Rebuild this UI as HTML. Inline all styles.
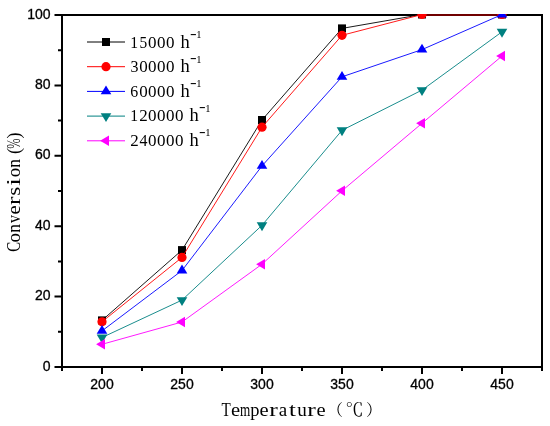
<!DOCTYPE html>
<html><head><meta charset="utf-8"><title>Conversion vs Temperature</title><style>
html,body{margin:0;padding:0;background:#fff;width:550px;height:426px;overflow:hidden}
svg{display:block}
.s{font-family:"Liberation Sans",Arial,sans-serif;font-size:14px;fill:#000;stroke:#000;stroke-width:0.3px}
.r{font-family:"Liberation Serif","Noto Serif CJK SC",serif;fill:#000}
</style></head><body>
<svg width="550" height="426" viewBox="0 0 550 426">
<rect width="550" height="426" fill="#fff"/>
<defs><clipPath id="pc"><rect x="61" y="14" width="482" height="354"/></clipPath></defs>
<rect x="62" y="15" width="480" height="352" fill="none" stroke="#000" stroke-width="2"/>
<g clip-path="url(#pc)">
<polyline points="102,320.4 182,250.1 262,120.0 342,28.4 422,14.5 502,14.5" fill="none" stroke="#000000" stroke-width="0.9"/>
<rect x="98.00" y="316.40" width="8.0" height="8.0" fill="#000000"/>
<rect x="178.00" y="246.10" width="8.0" height="8.0" fill="#000000"/>
<rect x="258.00" y="116.00" width="8.0" height="8.0" fill="#000000"/>
<rect x="338.00" y="24.40" width="8.0" height="8.0" fill="#000000"/>
<rect x="418.00" y="10.50" width="8.0" height="8.0" fill="#000000"/>
<rect x="498.00" y="10.50" width="8.0" height="8.0" fill="#000000"/>
<polyline points="102,321.8 182,257.4 262,127.2 342,35.3 422,14.5 502,14.5" fill="none" stroke="#ff0000" stroke-width="0.9"/>
<line x1="422" y1="15" x2="502" y2="15" stroke="#700000" stroke-width="2"/>
<circle cx="102.00" cy="321.80" r="4.6" fill="#ff0000"/>
<circle cx="182.00" cy="257.40" r="4.6" fill="#ff0000"/>
<circle cx="262.00" cy="127.20" r="4.6" fill="#ff0000"/>
<circle cx="342.00" cy="35.30" r="4.6" fill="#ff0000"/>
<circle cx="422.00" cy="14.50" r="4.6" fill="#ff0000"/>
<circle cx="502.00" cy="14.50" r="4.6" fill="#ff0000"/>
<polyline points="102,330.9 182,270.5 262,165.9 342,76.8 422,49.6 502,14.5" fill="none" stroke="#0000ff" stroke-width="0.9"/>
<path d="M102.00 325.00L107.30 333.85L96.70 333.85Z" fill="#0000ff"/>
<path d="M182.00 264.60L187.30 273.45L176.70 273.45Z" fill="#0000ff"/>
<path d="M262.00 160.00L267.30 168.85L256.70 168.85Z" fill="#0000ff"/>
<path d="M342.00 70.90L347.30 79.75L336.70 79.75Z" fill="#0000ff"/>
<path d="M422.00 43.70L427.30 52.55L416.70 52.55Z" fill="#0000ff"/>
<path d="M502.00 8.60L507.30 17.45L496.70 17.45Z" fill="#0000ff"/>
<polyline points="102,337.5 182,300.1 262,225.3 342,130.3 422,90.1 502,31.8" fill="none" stroke="#008080" stroke-width="0.9"/>
<path d="M102.00 343.40L107.30 334.55L96.70 334.55Z" fill="#008080"/>
<path d="M182.00 306.00L187.30 297.15L176.70 297.15Z" fill="#008080"/>
<path d="M262.00 231.20L267.30 222.35L256.70 222.35Z" fill="#008080"/>
<path d="M342.00 136.20L347.30 127.35L336.70 127.35Z" fill="#008080"/>
<path d="M422.00 96.00L427.30 87.15L416.70 87.15Z" fill="#008080"/>
<path d="M502.00 37.70L507.30 28.85L496.70 28.85Z" fill="#008080"/>
<polyline points="102,344.3 182,322.0 262,264.2 342,190.8 422,123.3 502,56.0" fill="none" stroke="#ff00ff" stroke-width="0.9"/>
<path d="M96.10 344.30L105.00 339.10L105.00 349.50Z" fill="#ff00ff"/>
<path d="M176.10 322.00L185.00 316.80L185.00 327.20Z" fill="#ff00ff"/>
<path d="M256.10 264.20L265.00 259.00L265.00 269.40Z" fill="#ff00ff"/>
<path d="M336.10 190.80L345.00 185.60L345.00 196.00Z" fill="#ff00ff"/>
<path d="M416.10 123.30L425.00 118.10L425.00 128.50Z" fill="#ff00ff"/>
<path d="M496.10 56.00L505.00 50.80L505.00 61.20Z" fill="#ff00ff"/>
</g>
<path d="M54.5 367.00H62 M58 331.80H62 M54.5 296.60H62 M58 261.40H62 M54.5 226.20H62 M58 191.00H62 M54.5 155.80H62 M58 120.60H62 M54.5 85.40H62 M58 50.20H62 M54.5 15.00H62 M62.00 367V371 M102.00 367V374 M142.00 367V371 M182.00 367V374 M222.00 367V371 M262.00 367V374 M302.00 367V371 M342.00 367V374 M382.00 367V371 M422.00 367V374 M462.00 367V371 M502.00 367V374 M542.00 367V371" stroke="#000" stroke-width="2" fill="none"/>
<text class="s" x="50.6" y="370.50" text-anchor="end">0</text>
<text class="s" x="50.6" y="300.10" text-anchor="end">20</text>
<text class="s" x="50.6" y="229.70" text-anchor="end">40</text>
<text class="s" x="50.6" y="159.30" text-anchor="end">60</text>
<text class="s" x="50.6" y="88.90" text-anchor="end">80</text>
<text class="s" x="50.6" y="18.50" text-anchor="end">100</text>
<text class="s" x="102.00" y="389" text-anchor="middle">200</text>
<text class="s" x="182.00" y="389" text-anchor="middle">250</text>
<text class="s" x="262.00" y="389" text-anchor="middle">300</text>
<text class="s" x="342.00" y="389" text-anchor="middle">350</text>
<text class="s" x="422.00" y="389" text-anchor="middle">400</text>
<text class="s" x="502.00" y="389" text-anchor="middle">450</text>
<line x1="87" y1="42.0" x2="125" y2="42.0" stroke="#000000" stroke-width="1"/>
<rect x="102.00" y="38.00" width="8.0" height="8.0" fill="#000000"/>
<text class="r" font-size="17.2" y="47.70"><tspan x="130.33" textLength="7.81" lengthAdjust="spacingAndGlyphs">1</tspan><tspan x="139.41" textLength="7.70" lengthAdjust="spacingAndGlyphs">5</tspan><tspan x="148.10" textLength="8.49" lengthAdjust="spacingAndGlyphs">0</tspan><tspan x="157.05" textLength="8.49" lengthAdjust="spacingAndGlyphs">0</tspan><tspan x="166.00" textLength="8.49" lengthAdjust="spacingAndGlyphs">0</tspan> <tspan font-size="18.5" x="180.50">h</tspan><tspan font-size="14" x="190.06" dy="-10" textLength="6.67" lengthAdjust="spacingAndGlyphs">-</tspan><tspan font-size="10.5" x="196.30" dy="0.5">1</tspan></text>
<line x1="87" y1="66.7" x2="125" y2="66.7" stroke="#ff0000" stroke-width="1"/>
<circle cx="106.00" cy="66.70" r="4.6" fill="#ff0000"/>
<text class="r" font-size="17.2" y="72.20"><tspan x="130.39" textLength="7.99" lengthAdjust="spacingAndGlyphs">3</tspan><tspan x="139.15" textLength="8.49" lengthAdjust="spacingAndGlyphs">0</tspan><tspan x="148.10" textLength="8.49" lengthAdjust="spacingAndGlyphs">0</tspan><tspan x="157.05" textLength="8.49" lengthAdjust="spacingAndGlyphs">0</tspan><tspan x="166.00" textLength="8.49" lengthAdjust="spacingAndGlyphs">0</tspan> <tspan font-size="18.5" x="180.50">h</tspan><tspan font-size="14" x="190.06" dy="-10" textLength="6.67" lengthAdjust="spacingAndGlyphs">-</tspan><tspan font-size="10.5" x="196.30" dy="0.5">1</tspan></text>
<line x1="87" y1="91.4" x2="125" y2="91.4" stroke="#0000ff" stroke-width="1"/>
<path d="M106.00 85.50L111.30 94.35L100.70 94.35Z" fill="#0000ff"/>
<text class="r" font-size="17.2" y="96.70"><tspan x="130.37" textLength="7.96" lengthAdjust="spacingAndGlyphs">6</tspan><tspan x="139.15" textLength="8.49" lengthAdjust="spacingAndGlyphs">0</tspan><tspan x="148.10" textLength="8.49" lengthAdjust="spacingAndGlyphs">0</tspan><tspan x="157.05" textLength="8.49" lengthAdjust="spacingAndGlyphs">0</tspan><tspan x="166.00" textLength="8.49" lengthAdjust="spacingAndGlyphs">0</tspan> <tspan font-size="18.5" x="180.50">h</tspan><tspan font-size="14" x="190.06" dy="-10" textLength="6.67" lengthAdjust="spacingAndGlyphs">-</tspan><tspan font-size="10.5" x="196.30" dy="0.5">1</tspan></text>
<line x1="87" y1="116.1" x2="125" y2="116.1" stroke="#008080" stroke-width="1"/>
<path d="M106.00 122.00L111.30 113.15L100.70 113.15Z" fill="#008080"/>
<text class="r" font-size="17.2" y="121.20"><tspan x="130.33" textLength="7.81" lengthAdjust="spacingAndGlyphs">1</tspan><tspan x="139.25" textLength="8.48" lengthAdjust="spacingAndGlyphs">2</tspan><tspan x="148.10" textLength="8.49" lengthAdjust="spacingAndGlyphs">0</tspan><tspan x="157.05" textLength="8.49" lengthAdjust="spacingAndGlyphs">0</tspan><tspan x="166.00" textLength="8.49" lengthAdjust="spacingAndGlyphs">0</tspan><tspan x="174.95" textLength="8.49" lengthAdjust="spacingAndGlyphs">0</tspan> <tspan font-size="18.5" x="189.45">h</tspan><tspan font-size="14" x="199.01" dy="-10" textLength="6.67" lengthAdjust="spacingAndGlyphs">-</tspan><tspan font-size="10.5" x="205.25" dy="0.5">1</tspan></text>
<line x1="87" y1="140.8" x2="125" y2="140.8" stroke="#ff00ff" stroke-width="1"/>
<path d="M100.10 140.80L109.00 135.60L109.00 146.00Z" fill="#ff00ff"/>
<text class="r" font-size="17.2" y="145.70"><tspan x="130.30" textLength="8.48" lengthAdjust="spacingAndGlyphs">2</tspan><tspan x="139.39" textLength="7.96" lengthAdjust="spacingAndGlyphs">4</tspan><tspan x="148.10" textLength="8.49" lengthAdjust="spacingAndGlyphs">0</tspan><tspan x="157.05" textLength="8.49" lengthAdjust="spacingAndGlyphs">0</tspan><tspan x="166.00" textLength="8.49" lengthAdjust="spacingAndGlyphs">0</tspan><tspan x="174.95" textLength="8.49" lengthAdjust="spacingAndGlyphs">0</tspan> <tspan font-size="18.5" x="189.45">h</tspan><tspan font-size="14" x="199.01" dy="-10" textLength="6.67" lengthAdjust="spacingAndGlyphs">-</tspan><tspan font-size="10.5" x="205.25" dy="0.5">1</tspan></text>
<text class="r" font-size="18" y="415.5"><tspan x="221.48" textLength="9.22" lengthAdjust="spacingAndGlyphs">T</tspan><tspan x="231.00" textLength="9.11" lengthAdjust="spacingAndGlyphs">e</tspan><tspan x="239.92" textLength="10.28" lengthAdjust="spacingAndGlyphs">m</tspan><tspan x="250.20" textLength="9.22" lengthAdjust="spacingAndGlyphs">p</tspan><tspan x="259.50" textLength="9.11" lengthAdjust="spacingAndGlyphs">e</tspan><tspan x="269.19" textLength="8.54" lengthAdjust="spacingAndGlyphs">r</tspan><tspan x="278.68" textLength="8.43" lengthAdjust="spacingAndGlyphs">a</tspan><tspan x="289.11" textLength="6.89" lengthAdjust="spacingAndGlyphs">t</tspan><tspan x="297.35" textLength="9.58" lengthAdjust="spacingAndGlyphs">u</tspan><tspan x="307.19" textLength="8.54" lengthAdjust="spacingAndGlyphs">r</tspan><tspan x="316.50" textLength="9.11" lengthAdjust="spacingAndGlyphs">e</tspan><tspan font-size="16" x="326.95" dy="-0.2">（</tspan><tspan x="345.4" dy="1.1">℃</tspan><tspan font-size="16" x="366.05" dy="-1.1">）</tspan></text>
<text class="r" font-size="18" transform="rotate(-90)" y="20.2"><tspan x="-251.86" textLength="9.93" lengthAdjust="spacingAndGlyphs">C</tspan><tspan x="-242.42" textLength="9.44" lengthAdjust="spacingAndGlyphs">o</tspan><tspan x="-232.80" textLength="8.66" lengthAdjust="spacingAndGlyphs">n</tspan><tspan x="-223.10" textLength="8.00" lengthAdjust="spacingAndGlyphs">v</tspan><tspan x="-214.40" textLength="9.11" lengthAdjust="spacingAndGlyphs">e</tspan><tspan x="-204.91" textLength="8.54" lengthAdjust="spacingAndGlyphs">r</tspan><tspan x="-195.75" textLength="8.98" lengthAdjust="spacingAndGlyphs">s</tspan><tspan x="-185.78" textLength="7.71" lengthAdjust="spacingAndGlyphs">i</tspan><tspan x="-177.32" textLength="9.44" lengthAdjust="spacingAndGlyphs">o</tspan><tspan x="-167.70" textLength="8.66" lengthAdjust="spacingAndGlyphs">n</tspan><tspan x="-154.10">(</tspan><tspan x="-148.72" textLength="10.24" lengthAdjust="spacingAndGlyphs">%</tspan><tspan x="-138.39">)</tspan></text>
</svg>
</body></html>
